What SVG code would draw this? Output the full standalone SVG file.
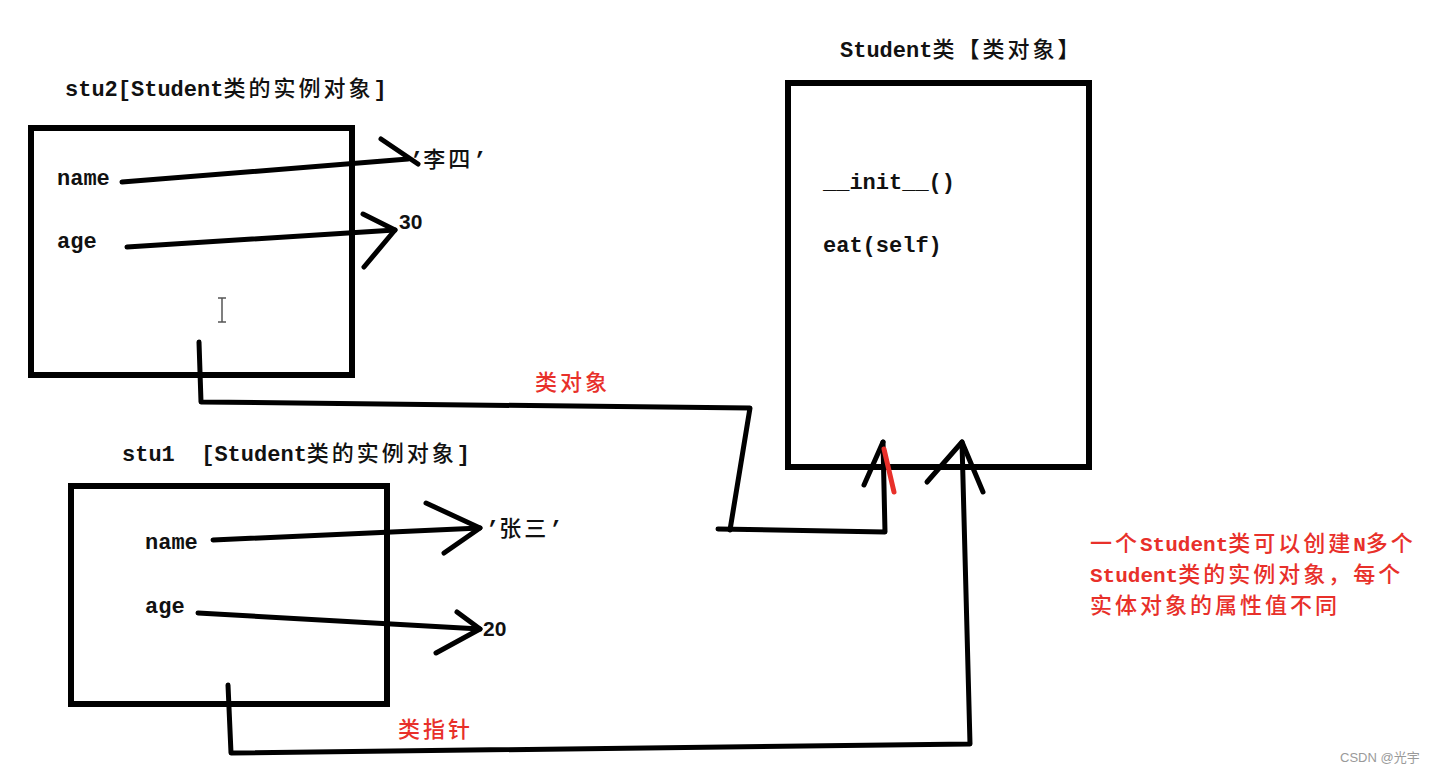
<svg xmlns="http://www.w3.org/2000/svg" width="1432" height="773" viewBox="0 0 1432 773">
<style>
.box{fill:none;stroke:#000;stroke-width:6}
.ln{fill:none;stroke:#000;stroke-width:5;stroke-linecap:round;stroke-linejoin:round}
.red{fill:none;stroke:#e8302a;stroke-width:5;stroke-linecap:round}
.t{font-family:"Liberation Mono","Noto Sans CJK SC",monospace;font-size:22px;font-weight:bold;fill:#111}
.c{font-family:"Noto Sans CJK SC",sans-serif;font-size:22px;font-weight:500;letter-spacing:3px}
.n{font-family:"Liberation Sans",Arial,sans-serif;font-size:21px;font-weight:600;fill:#111}
.r{font-family:"Liberation Mono","Noto Sans CJK SC",monospace;font-size:21px;font-weight:bold;fill:#e8302a}
.rc{font-family:"Noto Sans CJK SC",sans-serif;font-size:22px;font-weight:500;letter-spacing:3px}
.wm{font-family:"Liberation Sans","Noto Sans CJK SC",sans-serif;font-size:13px;fill:#9a9a9a}
</style>
<rect width="1432" height="773" fill="#fff"/>

<g id="stu2">
  <text class="t" x="65" y="96">stu2[Student<tspan class="c">类的实例对象</tspan>]</text>
  <rect class="box" x="31" y="128" width="321" height="247"/>
  <text class="t" x="57" y="185">name</text>
  <text class="t" x="57" y="248">age</text>
  <path d="M218,298h8M222,298v24M218,322h8" stroke="#555" stroke-width="1.5" fill="none"/>
</g>

<g id="stu1">
  <text class="t" x="122" y="461">stu1&#160;&#160;[Student<tspan class="c">类的实例对象</tspan>]</text>
  <rect class="box" x="71" y="486" width="316" height="218"/>
  <text class="t" x="145" y="549">name</text>
  <text class="t" x="145" y="613">age</text>
</g>

<g id="student-class">
  <text class="t" x="840" y="57">Student<tspan class="c">类【类对象】</tspan></text>
  <rect class="box" x="788" y="83" width="301" height="384"/>
  <text class="t" x="823" y="189">__init__()</text>
  <text class="t" x="823" y="252">eat(self)</text>
</g>

<g id="values">
  <text class="t" x="410" y="167">’<tspan class="c">李四</tspan>’</text>
  <text class="n" x="399" y="229">30</text>
  <text class="t" x="486" y="536">’<tspan class="c">张三</tspan>’</text>
  <text class="n" x="483" y="636">20</text>
</g>

<g id="connectors">
  <path class="ln" d="M122,182 L408,159"/>
  <path class="ln" d="M381,139 L418,164"/>
  <path class="ln" d="M127,247 L395,230"/>
  <path class="ln" d="M363,214 L395,230 L364,267"/>
  <path class="ln" d="M213,540 L480,528"/>
  <path class="ln" d="M426,503 L480,528 L444,553"/>
  <path class="ln" d="M198,613 L480,629"/>
  <path class="ln" d="M457,612 L480,629 L436,653"/>
  <path class="ln" d="M199,342 L201,402 L750,408 L730,530"/>
  <path class="ln" d="M718,529 L885,532 L883,442"/>
  <path class="ln" d="M883,442 L864,485"/>
  <path class="red" d="M884,449 L894,492"/>
  <path class="ln" d="M228,685 L231,753 L970,744 L962,442"/>
  <path class="ln" d="M927,482 L962,442 L983,492"/>
  <text class="r" x="535" y="390"><tspan class="rc">类对象</tspan></text>
  <text class="r" x="398" y="737"><tspan class="rc">类指针</tspan></text>
</g>

<g id="note">
  <text class="r" x="1090" y="551"><tspan class="rc">一个</tspan>Student<tspan class="rc">类可以创建</tspan>N<tspan class="rc">多个</tspan></text>
  <text class="r" x="1090" y="582">Student<tspan class="rc">类的实例对象，每个</tspan></text>
  <text class="r" x="1090" y="613"><tspan class="rc">实体对象的属性值不同</tspan></text>
</g>

<text class="wm" x="1340" y="762">CSDN @光宇</text>
</svg>
